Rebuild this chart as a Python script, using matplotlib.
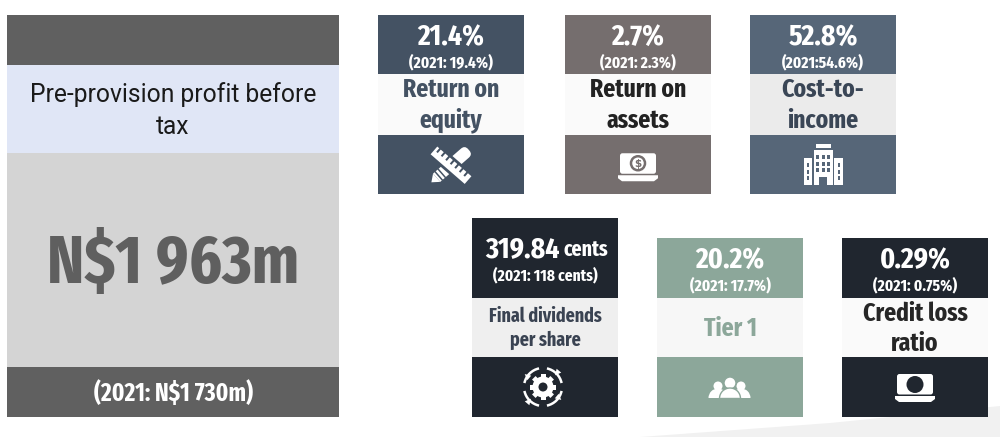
import matplotlib
matplotlib.use('Agg')
import matplotlib.pyplot as plt
from matplotlib.patches import Rectangle, Polygon, Circle, FancyBboxPatch, Arc, Wedge
from matplotlib.transforms import Affine2D

# Card texts
headline = 'N$1\u2009963m'
headline_prev = '(2021: N$1\u2009730m)'
headline_label = 'Pre-provision profit before\ntax'

card_values = ['21.4%', '2.7%', '52.8%', '319.84', '20.2%', '0.29%']
card_prev = ['(2021: 19.4%)', '(2021: 2.3%)', '(2021:54.6%)', '(2021: 118 cents)', '(2021: 17.7%)', '(2021: 0.75%)']
card_labels = ['Return on\nequity', 'Return on\nassets', 'Cost-to-\nincome',
               'Final dividends\nper share', 'Tier 1', 'Credit loss\nratio']
card_icons = ['tools', 'money', 'building', 'gear', 'people', 'laptop']

# Card look: x, top, split1, split2, bottom
card_boxes = [(378, 15, 74, 134.5, 194), (565, 15, 74, 134.5, 194), (750, 15, 74, 134.5, 194),
              (472, 218, 298, 357, 417), (657, 238, 298, 357, 417), (842, 238, 298, 357, 417)]
card_colors = ['#445263', '#756e6e', '#566678', '#20262f', '#8ca79a', '#20262f']
label_bgs = ['#fafafa', '#fafafa', '#ebebeb', '#efefef', '#f7f7f7', '#fafafa']
label_colors = ['#445263', '#222222', '#3a4656', '#3a4352', '#8ca79a', '#262626']
label_sizes = [18.5, 18.5, 18.5, 14, 18.5, 18.5]
CARD_W = 146

NARROW = ['Fira Sans Extra Condensed', 'Fira Sans Condensed', 'Roboto', 'DejaVu Sans']

fig = plt.figure(figsize=(10, 4.37), dpi=100)
ax = fig.add_axes([0, 0, 1, 1])
ax.set_xlim(0, 1000)
ax.set_ylim(437, 0)
ax.axis('off')


def box(x0, y0, x1, y1, color, z=1):
    ax.add_patch(Rectangle((x0, y0), x1 - x0, y1 - y0, fc=color, ec='none', zorder=z))


def txt(x, y, s, size, color, weight='bold', family=NARROW, ha='center', **kw):
    ax.text(x, y, s, fontsize=size, color=color, fontweight=weight, family=family,
            ha=ha, va='center', zorder=5, **kw)


def icon_tools(cx, cy, fg, bg):
    # ruler on top of a pencil
    t1 = Affine2D().rotate_deg(41).translate(cx, cy) + ax.transData
    t2 = Affine2D().rotate_deg(-41).translate(cx, cy) + ax.transData
    ax.add_patch(FancyBboxPatch((3, -4.5), 19, 9, boxstyle='round,pad=1.5,rounding_size=5', fc=fg, ec='none', transform=t2, zorder=5))
    ax.add_patch(Rectangle((-19, -5.5), 13, 11, fc=fg, ec='none', transform=t2, zorder=5))
    ax.add_patch(Polygon([(-19, -5.5), (-19, 5.5), (-26, 0)], fc=fg, ec='none', transform=t2, zorder=5))
    for i in (-17, -13):
        ax.add_patch(Rectangle((i, -6), 1.5, 12, fc=bg, ec='none', transform=t2, zorder=5.5))
    ax.add_patch(Rectangle((-24, -6.5), 48, 13, fc=fg, ec=bg, lw=2, transform=t1, zorder=6))
    for i in range(-20, 22, 6):
        ax.add_patch(Rectangle((i, -6.5), 2, 6, fc=bg, ec='none', transform=t1, zorder=7))


def icon_laptop(cx, cy, fg, bg, dollar=False):
    # screen, base, then the round mark on the screen
    ax.add_patch(FancyBboxPatch((cx - 18, cy - 13), 36, 20.5, boxstyle='round,pad=0,rounding_size=2.5', fc=fg, ec='none', zorder=5))
    ax.add_patch(Polygon([(cx - 20, cy + 9), (cx + 20, cy + 9), (cx + 20, cy + 12), (cx + 16, cy + 15), (cx - 16, cy + 15), (cx - 20, cy + 12)], fc=fg, ec='none', zorder=5))
    if dollar:
        ax.add_patch(Circle((cx, cy - 3), 7, fc=fg, ec=bg, lw=1.8, zorder=6))
        ax.text(cx, cy - 2.6, '$', fontsize=7.5, color=bg, fontweight='bold', ha='center', va='center', zorder=7)
    else:
        ax.add_patch(Circle((cx, cy - 2.5), 8.5, fc=bg, ec='none', zorder=6))


def icon_building(cx, cy, fg, bg):
    box(cx - 9.5, cy - 15, cx + 9.5, cy + 20, fg, 5)
    box(cx - 7.5, cy - 21, cx + 7.5, cy - 17.5, fg, 5)
    box(cx - 19, cy - 7, cx - 11, cy + 20, fg, 5)
    box(cx + 11, cy - 7, cx + 20, cy + 20, fg, 5)
    for r in range(3):
        for c in (-7, -1.5, 4):
            box(cx + c, cy - 10 + r * 6.5, cx + c + 3, cy - 6 + r * 6.5, bg, 6)
    for r in range(3):
        for c in (-16, 14.5):
            box(cx + c, cy - 2 + r * 6.5, cx + c + 2.2, cy + 2 + r * 6.5, bg, 6)
    box(cx - 4, cy + 12, cx + 4, cy + 20, bg, 6)


def icon_gear(cx, cy, fg, bg):
    ax.add_patch(Circle((cx, cy), 10.5, fc=fg, ec='none', zorder=5))
    for a in range(0, 360, 45):
        t = Affine2D().rotate_deg(a).translate(cx, cy) + ax.transData
        ax.add_patch(Rectangle((-2.5, -13), 5, 5, fc=fg, ec='none', transform=t, zorder=5))
    ax.add_patch(Circle((cx, cy), 4.5, fc=bg, ec='none', zorder=6))
    for th1, th2 in [(12, 78), (102, 168), (192, 258), (282, 348)]:
        ax.add_patch(Arc((cx, cy), 38, 38, theta1=th1, theta2=th2, color=fg, lw=1.8, zorder=5))
    for x, y, a in [(cx + 14, cy - 14, 40), (cx - 14, cy + 14, 220), (cx - 16, cy - 11, 130), (cx + 16, cy + 11, 310)]:
        t = Affine2D().rotate_deg(a).translate(x, y) + ax.transData
        ax.add_patch(Polygon([(-3, -3), (3, -3), (0, 3)], fc=fg, ec='none', transform=t, zorder=5))


def icon_people(cx, cy, fg, bg):
    for dx in (-12, 11):
        ax.add_patch(Circle((cx + dx, cy - 1), 4.5, fc=fg, ec='none', zorder=5))
        ax.add_patch(Wedge((cx + dx, cy + 11), 9.5, 180, 360, fc=fg, ec='none', zorder=5))
    ax.add_patch(Circle((cx, cy - 4), 6, fc=fg, ec=bg, lw=1, zorder=6))
    ax.add_patch(Wedge((cx, cy + 11.5), 10.5, 180, 360, fc=fg, ec=bg, lw=1, zorder=6))


# faint swoosh bottom right
ax.add_patch(Polygon([(640, 437), (830, 423), (1000, 406), (1000, 437)], fc='#f1f1f1', ec='none', zorder=0))

# left panel
box(7, 15, 339, 65, '#606060')
box(7, 65, 339, 153, '#e0e6f6')
box(7, 153, 339, 367, '#d4d4d4')
box(7, 367, 339, 417, '#606060')
txt(173, 110.5, headline_label, 17.7, '#1a1a1a', weight='normal', family=['Roboto', 'DejaVu Sans'], linespacing=1.38)
txt(173, 264, headline, 49, '#5f5f5f')
txt(173, 393, headline_prev, 18, '#ffffff')

for i in range(6):
    x, top, s1, s2, bot = card_boxes[i]
    c = card_colors[i]
    cx = x + CARD_W / 2
    box(x, top, x + CARD_W, s1, c)
    box(x, s1, x + CARD_W, s2, label_bgs[i])
    box(x, s2, x + CARD_W, bot, c)
    if card_values[i] == '319.84':
        txt(cx + 15, top + 31, card_values[i], 21.5, '#ffffff', ha='right')
        txt(cx + 18, top + 32, 'cents', 15.5, '#ffffff', ha='left')
        txt(cx, top + 57, card_prev[i], 12, '#ffffff')
    else:
        txt(cx, top + 22.5, card_values[i], 21.5, '#ffffff')
        txt(cx, top + 47, card_prev[i], 12, '#ffffff')
    txt(cx, (s1 + s2) / 2 + 1, card_labels[i], label_sizes[i], label_colors[i], linespacing=1.28)
    ic = (s2 + bot) / 2
    name = card_icons[i]
    if name == 'tools':
        icon_tools(cx, ic + 1, '#ffffff', c)
    elif name == 'money':
        icon_laptop(cx, ic + 2, '#ffffff', c, dollar=True)
    elif name == 'building':
        icon_building(cx, ic + 1, '#ffffff', c)
    elif name == 'gear':
        icon_gear(cx - 2, ic, '#ffffff', c)
    elif name == 'people':
        icon_people(cx, ic, '#ffffff', c)
    else:
        icon_laptop(cx, ic, '#ffffff', c)

fig.savefig('out.png', dpi=100, facecolor='white')
